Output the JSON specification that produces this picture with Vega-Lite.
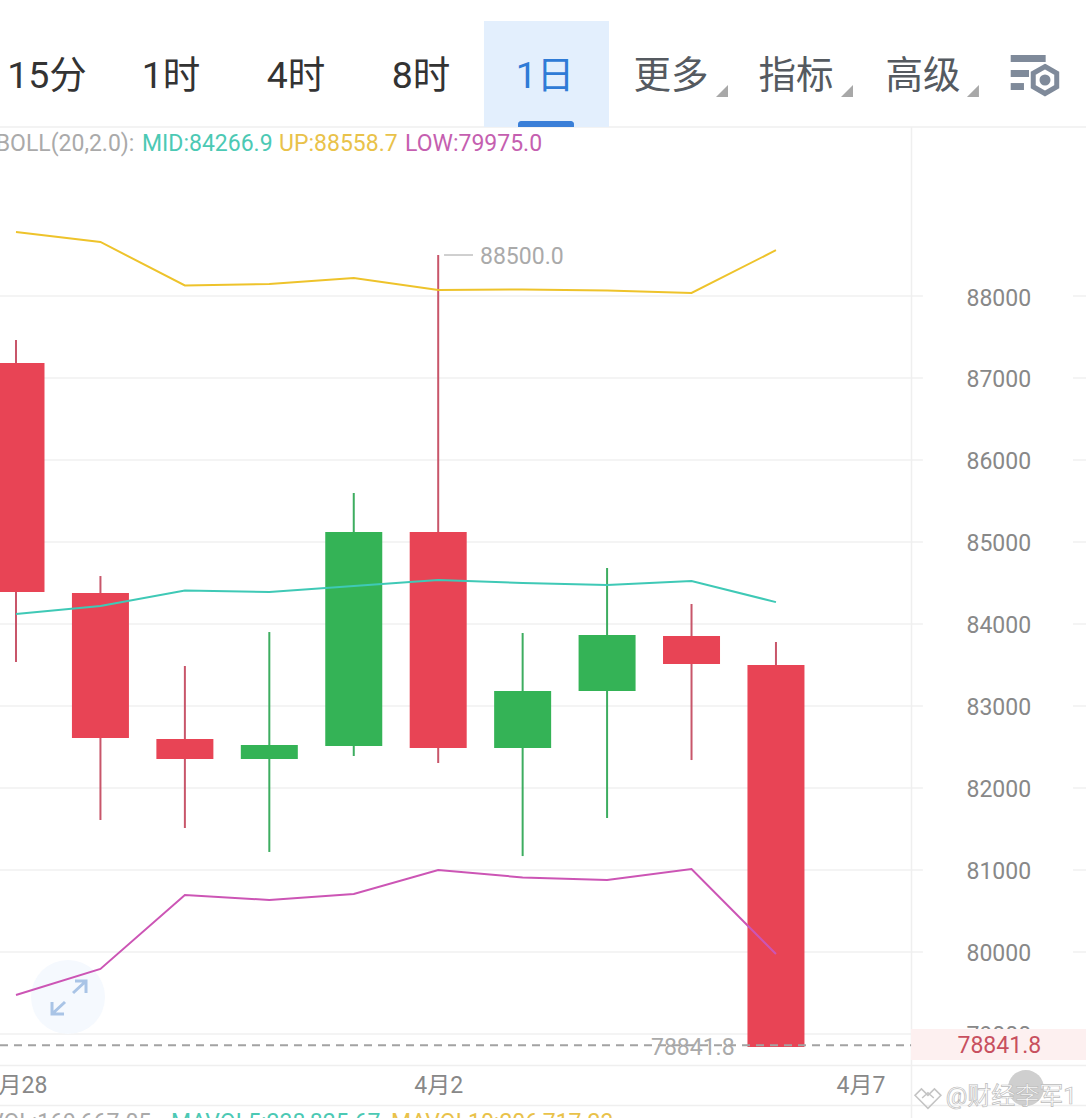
{
"$schema":"https://vega.github.io/schema/vega-lite/v6.json",
"width":1086,"height":1118,"padding":0,"autosize":{"type":"none"},"background":"#ffffff",
"config":{"view":{"stroke":null},"text":{"font":"Roboto, Noto Sans CJK SC"}},
"datasets":{
"levels":[
{"price":79000,"day":-0.18948,"day2":10.74},{"price":80000,"day":-0.18948,"day2":10.74},{"price":81000,"day":-0.18948,"day2":10.74},{"price":82000,"day":-0.18948,"day2":10.74},{"price":83000,"day":-0.18948,"day2":10.74},{"price":84000,"day":-0.18948,"day2":10.74},{"price":85000,"day":-0.18948,"day2":10.74},{"price":86000,"day":-0.18948,"day2":10.74},{"price":87000,"day":-0.18948,"day2":10.74},{"price":88000,"day":-0.18948,"day2":10.74},
{"price":80000,"day":12.518,"day2":12.6717},{"price":81000,"day":12.518,"day2":12.6717},{"price":82000,"day":12.518,"day2":12.6717},{"price":83000,"day":12.518,"day2":12.6717},{"price":84000,"day":12.518,"day2":12.6717},{"price":85000,"day":12.518,"day2":12.6717},{"price":86000,"day":12.518,"day2":12.6717},{"price":87000,"day":12.518,"day2":12.6717},{"price":88000,"day":12.518,"day2":12.6717}],
"candles":[
{"day":0,"date":"3月28","open":87183,"close":84390,"high":87463,"low":83537,"dir":"down","mid":84122,"up":88780,"lower":79476},
{"day":1,"date":"3月29","open":84378,"close":82610,"high":84585,"low":81610,"dir":"down","mid":84220,"up":88659,"lower":79793},
{"day":2,"date":"3月30","open":82598,"close":82354,"high":83488,"low":81512,"dir":"down","mid":84409,"up":88128,"lower":80695},
{"day":3,"date":"3月31","open":82354,"close":82524,"high":83902,"low":81220,"dir":"up","mid":84390,"up":88146,"lower":80634},
{"day":4,"date":"4月1","open":82512,"close":85122,"high":85598,"low":82390,"dir":"up","mid":84463,"up":88220,"lower":80707},
{"day":5,"date":"4月2","open":85122,"close":82488,"high":88500,"low":82305,"dir":"down","mid":84537,"up":88073,"lower":81000},
{"day":6,"date":"4月3","open":82488,"close":83183,"high":83890,"low":81170,"dir":"up","mid":84500,"up":88079,"lower":80909},
{"day":7,"date":"4月4","open":83183,"close":83866,"high":84683,"low":81634,"dir":"up","mid":84476,"up":88067,"lower":80878},
{"day":8,"date":"4月5","open":83854,"close":83512,"high":84244,"low":82341,"dir":"down","mid":84524,"up":88037,"lower":81012},
{"day":9,"date":"4月6","open":83500,"close":78841.8,"high":83780,"low":78841.8,"dir":"down","mid":84266.9,"up":88558.7,"lower":79975}
]
},
"encoding":{
"x":{"field":"day","type":"quantitative","scale":{"domain":[-0.18948,12.6717],"nice":false,"zero":false,"padding":0},
 "axis":{"orient":"bottom","offset":-44,"values":[0,5,10],"labelExpr":"datum.value==0?'3月28':datum.value==5?'4月2':'4月7'","domain":false,"ticks":false,"grid":false,"title":null,"labelPadding":0,"labelFontSize":23,"labelColor":"#888888","labelFont":"Roboto, Noto Sans CJK SC","labelFlush":false,"labelBound":false,"labelOverlap":false}},
"y":{"field":"price","type":"quantitative","scale":{"domain":[77975.6,91609.76],"nice":false,"zero":false,"padding":0},"axis":null}
},
"resolve":{"scale":{"color":"independent"},"axis":{"y":"independent"}},
"layer":[
{"data":{"name":"levels"},
 "mark":{"type":"rule","color":"#f1f1f1","strokeWidth":1.5},
 "encoding":{"x2":{"field":"day2"},
 "y":{"field":"price","type":"quantitative","axis":{"orient":"right","offset":-120,"values":[79000,80000,81000,82000,83000,84000,85000,86000,87000,88000],"format":"d","domain":false,"ticks":false,"grid":false,"title":null,"labelPadding":0,"labelOffset":2,"labelFontSize":23,"labelColor":"#888888","labelFont":"Roboto","labelAlign":"left","labelBound":false,"labelFlush":false,"labelOverlap":false}}}},
{"data":{"values":[
 {"day":-0.18948,"day2":12.6717,"price":90061,"price2":90061},
 {"day":-0.18948,"day2":12.6717,"price":78616,"price2":78616},
 {"day":-0.18948,"day2":12.6717,"price":78128,"price2":78128},
 {"day":10.605,"day2":10.605,"price":90061,"price2":77976}]},
 "mark":{"type":"rule","color":"#efefef","strokeWidth":1.5},
 "encoding":{"x2":{"field":"day2"},"y2":{"field":"price2"}}},
{"data":{"values":[
 {"kind":"tab","day":5.542,"day2":7.023,"price":91354,"price2":90061},
 {"kind":"band","day":10.599,"day2":12.6717,"price":79061,"price2":78683},
 {"kind":"icon","day":11.78,"day2":12.194,"price":90939,"price2":90853},
 {"kind":"icon","day":11.78,"day2":11.997,"price":90756,"price2":90671},
 {"kind":"icon","day":11.78,"day2":11.937,"price":90597,"price2":90512}]},
 "mark":{"type":"rect"},
 "encoding":{"x2":{"field":"day2"},"y2":{"field":"price2"},"color":{"field":"kind","type":"nominal","legend":null,"scale":{"domain":["tab","band","icon"],"range":["#e3effd","#fdf0f0","#7f8a9a"]}}}},
{"data":{"values":[{"day":5.945,"day2":6.608,"price":90134,"price2":90061}]},
 "mark":{"type":"rect","color":"#3a7fd8","cornerRadiusTopLeft":5,"cornerRadiusTopRight":5},
 "encoding":{"x2":{"field":"day2"},"y2":{"field":"price2"}}},
{"data":{"values":[{"day":0.616,"price":79451}]},"mark":{"type":"point","shape":"circle","filled":true,"color":"#f5f9fe","opacity":1,"size":5476}},
{"data":{"values":[{"day":0.616,"price":79451}]},"mark":{"type":"point","shape":"M0.25,-0.2L0.9,-0.8M0.35,-0.8L0.9,-0.8L0.9,-0.2M-0.15,0.25L-0.8,0.85M-0.8,0.25L-0.8,0.85L-0.2,0.85","filled":false,"fill":null,"stroke":"#a9c4e6","strokeWidth":3,"opacity":1,"size":1600}},
{"data":{"name":"candles"},
 "mark":{"type":"rule","strokeWidth":2},
 "encoding":{"y":{"field":"high","type":"quantitative","axis":null},"y2":{"field":"low"},"color":{"field":"dir","type":"nominal","legend":null,"scale":{"domain":["down","up"],"range":["#c8566a","#3dad60"]}}}},
{"data":{"name":"candles"},
 "mark":{"type":"bar","size":57,"orient":"vertical"},
 "encoding":{"y":{"field":"open","type":"quantitative","axis":null},"y2":{"field":"close"},"color":{"field":"dir","type":"nominal","legend":null,"scale":{"domain":["down","up"],"range":["#e84455","#34b356"]}}}},
{"data":{"name":"candles"},"mark":{"type":"line","color":"#eec32b","strokeWidth":2},"encoding":{"y":{"field":"up","type":"quantitative","axis":null}}},
{"data":{"name":"candles"},"mark":{"type":"line","color":"#3fc9b6","strokeWidth":2},"encoding":{"y":{"field":"mid","type":"quantitative","axis":null}}},
{"data":{"name":"candles"},"mark":{"type":"line","color":"#cc55b5","strokeWidth":2},"encoding":{"y":{"field":"lower","type":"quantitative","axis":null}}},
{"data":{"values":[{"day":-0.18948,"day2":10.6,"price":78862}]},
 "mark":{"type":"rule","color":"#a3a3a3","strokeWidth":2,"strokeDash":[8,6]},
 "encoding":{"x2":{"field":"day2"}}},
{"data":{"values":[{"day":5.069,"day2":5.412,"price":88500}]},
 "mark":{"type":"rule","color":"#b0b0b0","strokeWidth":1.2},
 "encoding":{"x2":{"field":"day2"}}},
{"data":{"values":[
 {"label":"15分","kind":"dark","day":0.367,"price":90670},
 {"label":"1时","kind":"dark","day":1.836,"price":90670},
 {"label":"4时","kind":"dark","day":3.316,"price":90670},
 {"label":"8时","kind":"dark","day":4.796,"price":90670},
 {"label":"1日","kind":"active","day":6.265,"price":90670},
 {"label":"更多","kind":"more","day":7.757,"price":90670},
 {"label":"指标","kind":"more","day":9.237,"price":90670},
 {"label":"高级","kind":"more","day":10.741,"price":90670}]},
 "mark":{"type":"text","fontSize":37.5,"align":"center","baseline":"middle"},
 "encoding":{"text":{"field":"label"},"color":{"field":"kind","type":"nominal","legend":null,"scale":{"domain":["dark","active","more"],"range":["#333333","#2f7bd6","#555a60"]}}}},
{"data":{"values":[{"day":8.361,"price":90500},{"day":9.841,"price":90500},{"day":11.333,"price":90500}]},
 "mark":{"type":"point","shape":"M1,-1L1,1L-1,1Z","filled":true,"color":"#a8a8a8","opacity":1,"size":144}},
{"data":{"values":[{"day":12.186,"price":90634}]},
 "mark":{"type":"point","shape":"M0,-1L0.87,-0.5L0.87,0.5L0,1L-0.87,0.5L-0.87,-0.5Z","filled":false,"fill":"#ffffff","stroke":"#7f8a9a","strokeWidth":5,"opacity":1,"size":729}},
{"data":{"values":[{"day":12.186,"price":90634}]},
 "mark":{"type":"point","shape":"circle","filled":true,"color":"#7f8a9a","opacity":1,"size":121}},
{"data":{"values":[
 {"label":"BOLL(20,2.0):","kind":"grey","day":-0.24,"price":89854},
 {"label":"MID:84266.9","kind":"mid","day":1.492,"price":89854},
 {"label":"UP:88558.7","kind":"up","day":3.115,"price":89854},
 {"label":"LOW:79975.0","kind":"low","day":4.607,"price":89854},
 {"label":"VOL:169,667.05","kind":"grey","day":-0.32,"price":77915},
 {"label":"MAVOL5:238,825.67","kind":"mid","day":1.836,"price":77915},
 {"label":"MAVOL10:206,717.23","kind":"up","day":4.441,"price":77915},
 {"label":"88500.0","kind":"grey","day":5.495,"price":88478},
 {"label":"78841.8","kind":"grey","day":7.52,"price":78830},
 {"label":"78841.8","kind":"last","day":11.15,"price":78855}]},
 "mark":{"type":"text","fontSize":23,"align":"left","baseline":"middle"},
 "encoding":{"text":{"field":"label"},"color":{"field":"kind","type":"nominal","legend":null,"scale":{"domain":["grey","mid","up","low","last"],"range":["#aaaaaa","#4cc9b4","#e9c24a","#c55fb0","#c8505f"]}}}},
{"data":{"values":[{"day":11.96,"price":78341}]},
 "mark":{"type":"point","shape":"circle","filled":true,"color":"#cfcfcf","opacity":1,"size":1296}},
{"data":{"values":[{"day":10.8,"price":78220}]},
 "mark":{"type":"point","shape":"M-1,-0.2L-0.5,-0.7L0,-0.2L0.5,-0.7L1,-0.2L0,0.8ZM-0.45,0L0,-0.4L0.45,0","filled":false,"fill":null,"stroke":"#c4c4c4","strokeWidth":1.5,"opacity":1,"size":676}},
{"data":{"values":[{"label":"@财经李军1","day":11.01,"price":78232}]},
 "mark":{"type":"text","fontSize":24,"align":"left","baseline":"middle","color":"#ffffff","stroke":"#bbbbbb","strokeWidth":0.7},
 "encoding":{"text":{"field":"label"}}}
]
}
